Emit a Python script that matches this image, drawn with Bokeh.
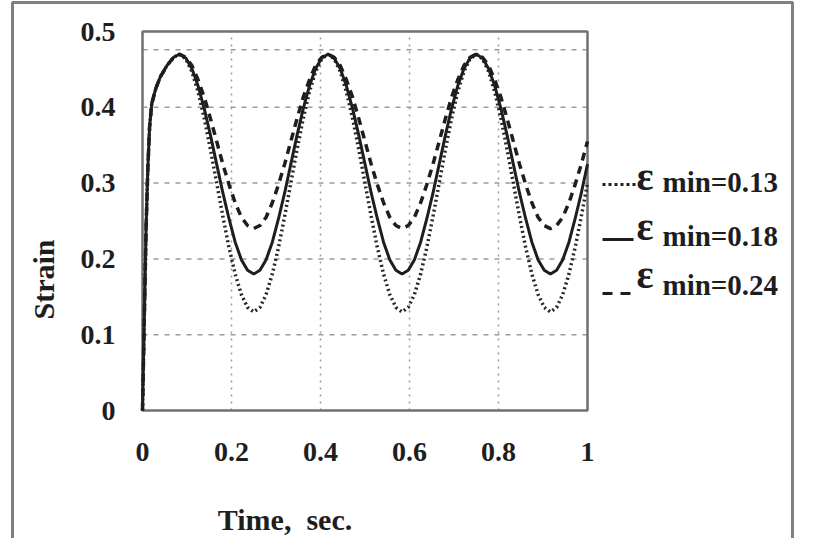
import math
from bokeh.plotting import figure
from bokeh.models import Range1d, FixedTicker, Label
from bokeh.embed import file_html
from bokeh.resources import INLINE

# ---- data ----
rise_time = [0.0, 0.004, 0.008, 0.012, 0.016, 0.0208, 0.03, 0.04, 0.055, 0.07]
rise_strain = [0.0, 0.12, 0.24, 0.32, 0.375, 0.405, 0.425, 0.44, 0.455, 0.466]

cycle_time = [0.0833, 0.0972, 0.1111, 0.125, 0.1389, 0.1528, 0.1667, 0.1806, 0.1944,
              0.2083, 0.2222, 0.2361, 0.25, 0.2639, 0.2778, 0.2917, 0.3056, 0.3194,
              0.3333, 0.3472, 0.3611, 0.375, 0.3889, 0.4028, 0.4167, 0.4306, 0.4444,
              0.4583, 0.4722, 0.4861, 0.5, 0.5139, 0.5278, 0.5417, 0.5556, 0.5694,
              0.5833, 0.5972, 0.6111, 0.625, 0.6389, 0.6528, 0.6667, 0.6806, 0.6944,
              0.7083, 0.7222, 0.7361, 0.75, 0.7639, 0.7778, 0.7917, 0.8056, 0.8194,
              0.8333, 0.8472, 0.8611, 0.875, 0.8889, 0.9028, 0.9167, 0.9306, 0.9444,
              0.9583, 0.9722, 0.9861, 1.0]

strain_013 = [0.47, 0.464, 0.447, 0.42, 0.385, 0.344, 0.30, 0.256, 0.215, 0.18, 0.153, 0.136, 0.13,
              0.136, 0.153, 0.18, 0.215, 0.256, 0.30, 0.344, 0.385, 0.42, 0.447, 0.464, 0.47,
              0.464, 0.447, 0.42, 0.385, 0.344, 0.30, 0.256, 0.215, 0.18, 0.153, 0.136, 0.13,
              0.136, 0.153, 0.18, 0.215, 0.256, 0.30, 0.344, 0.385, 0.42, 0.447, 0.464, 0.47,
              0.464, 0.447, 0.42, 0.385, 0.344, 0.30, 0.256, 0.215, 0.18, 0.153, 0.136, 0.13,
              0.136, 0.153, 0.18, 0.215, 0.256, 0.30]
strain_018 = [0.47, 0.465, 0.451, 0.428, 0.398, 0.363, 0.325, 0.287, 0.253, 0.222, 0.199, 0.185, 0.18,
              0.185, 0.199, 0.222, 0.253, 0.287, 0.325, 0.363, 0.398, 0.428, 0.451, 0.465, 0.47,
              0.465, 0.451, 0.428, 0.398, 0.363, 0.325, 0.287, 0.253, 0.222, 0.199, 0.185, 0.18,
              0.185, 0.199, 0.222, 0.253, 0.287, 0.325, 0.363, 0.398, 0.428, 0.451, 0.465, 0.47,
              0.465, 0.451, 0.428, 0.398, 0.363, 0.325, 0.287, 0.253, 0.222, 0.199, 0.185, 0.18,
              0.185, 0.199, 0.222, 0.253, 0.287, 0.325]
strain_024 = [0.47, 0.466, 0.455, 0.436, 0.413, 0.385, 0.355, 0.325, 0.298, 0.274, 0.255, 0.244, 0.24,
              0.244, 0.255, 0.274, 0.298, 0.325, 0.355, 0.385, 0.413, 0.436, 0.455, 0.466, 0.47,
              0.466, 0.455, 0.436, 0.413, 0.385, 0.355, 0.325, 0.298, 0.274, 0.255, 0.244, 0.24,
              0.244, 0.255, 0.274, 0.298, 0.325, 0.355, 0.385, 0.413, 0.436, 0.455, 0.466, 0.47,
              0.466, 0.455, 0.436, 0.413, 0.385, 0.355, 0.325, 0.298, 0.274, 0.255, 0.244, 0.24,
              0.244, 0.255, 0.274, 0.298, 0.325, 0.355]

x_ticks = [0, 0.2, 0.4, 0.6, 0.8, 1]
x_tick_labels = ["0", "0.2", "0.4", "0.6", "0.8", "1"]
y_ticks = [0, 0.1, 0.2, 0.3, 0.4, 0.5]
y_tick_labels = ["0", "0.1", "0.2", "0.3", "0.4", "0.5"]
peak_ref = 0.476

legend_texts = ["min=0.13", "min=0.18", "min=0.24"]

time_s = rise_time + cycle_time

# ---- page geometry (pixels) ----
W, H = 832, 538
FL, FR, FT, FB = 142, 587, 31, 410   # plot box edges in page pixels


def px_to_x(px):
    return x_ticks[0] + (px - FL) / (FR - FL) * (x_ticks[-1] - x_ticks[0])


def py_to_y(py):
    return y_ticks[0] + (FB - py) / (FB - FT) * (y_ticks[-1] - y_ticks[0])


p = figure(width=W, height=H, output_backend="svg", toolbar_location=None,
           x_range=Range1d(px_to_x(0), px_to_x(W)),
           y_range=Range1d(py_to_y(H), py_to_y(0)),
           min_border=0)
p.background_fill_color = "white"
p.border_fill_color = "white"
p.outline_line_color = None
p.xgrid.visible = False
p.ygrid.visible = False

font = "Liberation Serif"
ink = "#1e1e1e"
for ax, ticks, labels in ((p.xaxis[0], x_ticks, x_tick_labels), (p.yaxis[0], y_ticks, y_tick_labels)):
    ax.ticker = FixedTicker(ticks=ticks)
    ax.major_label_overrides = {t: l for t, l in zip(ticks, labels)}
    ax.fixed_location = 0
    ax.axis_line_color = None
    ax.major_tick_line_color = None
    ax.minor_tick_line_color = None
    ax.major_label_text_font = font
    ax.major_label_text_font_style = "bold"
    ax.major_label_text_font_size = "28px"
    ax.major_label_text_color = ink
p.xaxis.major_label_standoff = 26
p.yaxis.major_label_standoff = 21

grid_color = "#9a9a9a"
# vertical grid lines
p.segment(x0=x_ticks[1:-1], y0=[y_ticks[0]] * 4, x1=x_ticks[1:-1], y1=[y_ticks[-1]] * 4,
          line_color=grid_color, line_dash="2 5", line_width=1.5)
# horizontal grid lines + peak reference line
hy = y_ticks[1:-1] + [peak_ref]
p.segment(x0=[x_ticks[0]] * len(hy), y0=hy, x1=[x_ticks[-1]] * len(hy), y1=hy,
          line_color=grid_color, line_dash="5 6", line_width=1.5)

# plot box outline
p.quad(left=x_ticks[0], right=x_ticks[-1], bottom=y_ticks[0], top=y_ticks[-1],
       fill_color=None, line_color="#707070", line_width=2.5)

# ---- curves ----
p.line(time_s, rise_strain + strain_013, line_color="#262626", line_width=3.5, line_dash="2 3")
p.line(time_s, rise_strain + strain_024, line_color=ink, line_width=3.5, line_dash="8 6")
p.line(time_s, rise_strain + strain_018, line_color=ink, line_width=3)

# ---- axis titles ----
p.add_layout(Label(x=px_to_x(42.5), y=py_to_y(279), text="Strain", angle=math.pi / 2,
                   text_align="center", text_baseline="middle", text_font=font,
                   text_font_style="bold", text_font_size="30px", text_color=ink))
p.add_layout(Label(x=px_to_x(284.5), y=py_to_y(518.5), text="Time,\u00a0\u00a0sec.",
                   text_align="center", text_baseline="middle", text_font=font,
                   text_font_style="bold", text_font_size="30px", text_color=ink))

# ---- legend ----
eps_mid = [176, 226, 274]
txt_mid = [181, 235.5, 284.5]
sample_y = [184, 239, 293]
sample_dash = ["3 3", "solid", "10 8"]
sample_x1 = [635, 633, 632]
for i in range(3):
    p.line([px_to_x(602), px_to_x(sample_x1[i])], [py_to_y(sample_y[i])] * 2,
           line_color=ink, line_width=3, line_dash=sample_dash[i])
    p.add_layout(Label(x=px_to_x(636), y=py_to_y(eps_mid[i]), text="\u03b5",
                       text_align="left", text_baseline="middle", text_font=font,
                       text_font_style="bold", text_font_size="40px", text_color=ink))
    p.add_layout(Label(x=px_to_x(662), y=py_to_y(txt_mid[i]), text=legend_texts[i],
                       text_align="left", text_baseline="middle", text_font=font,
                       text_font_style="bold", text_font_size="29px", text_color=ink))

# ---- outer picture border ----
p.line([px_to_x(12), px_to_x(12), px_to_x(792), px_to_x(792)],
       [py_to_y(560), py_to_y(2), py_to_y(2), py_to_y(560)],
       line_color="#808080", line_width=3)

open("out.html", "w").write(file_html(p, INLINE))
